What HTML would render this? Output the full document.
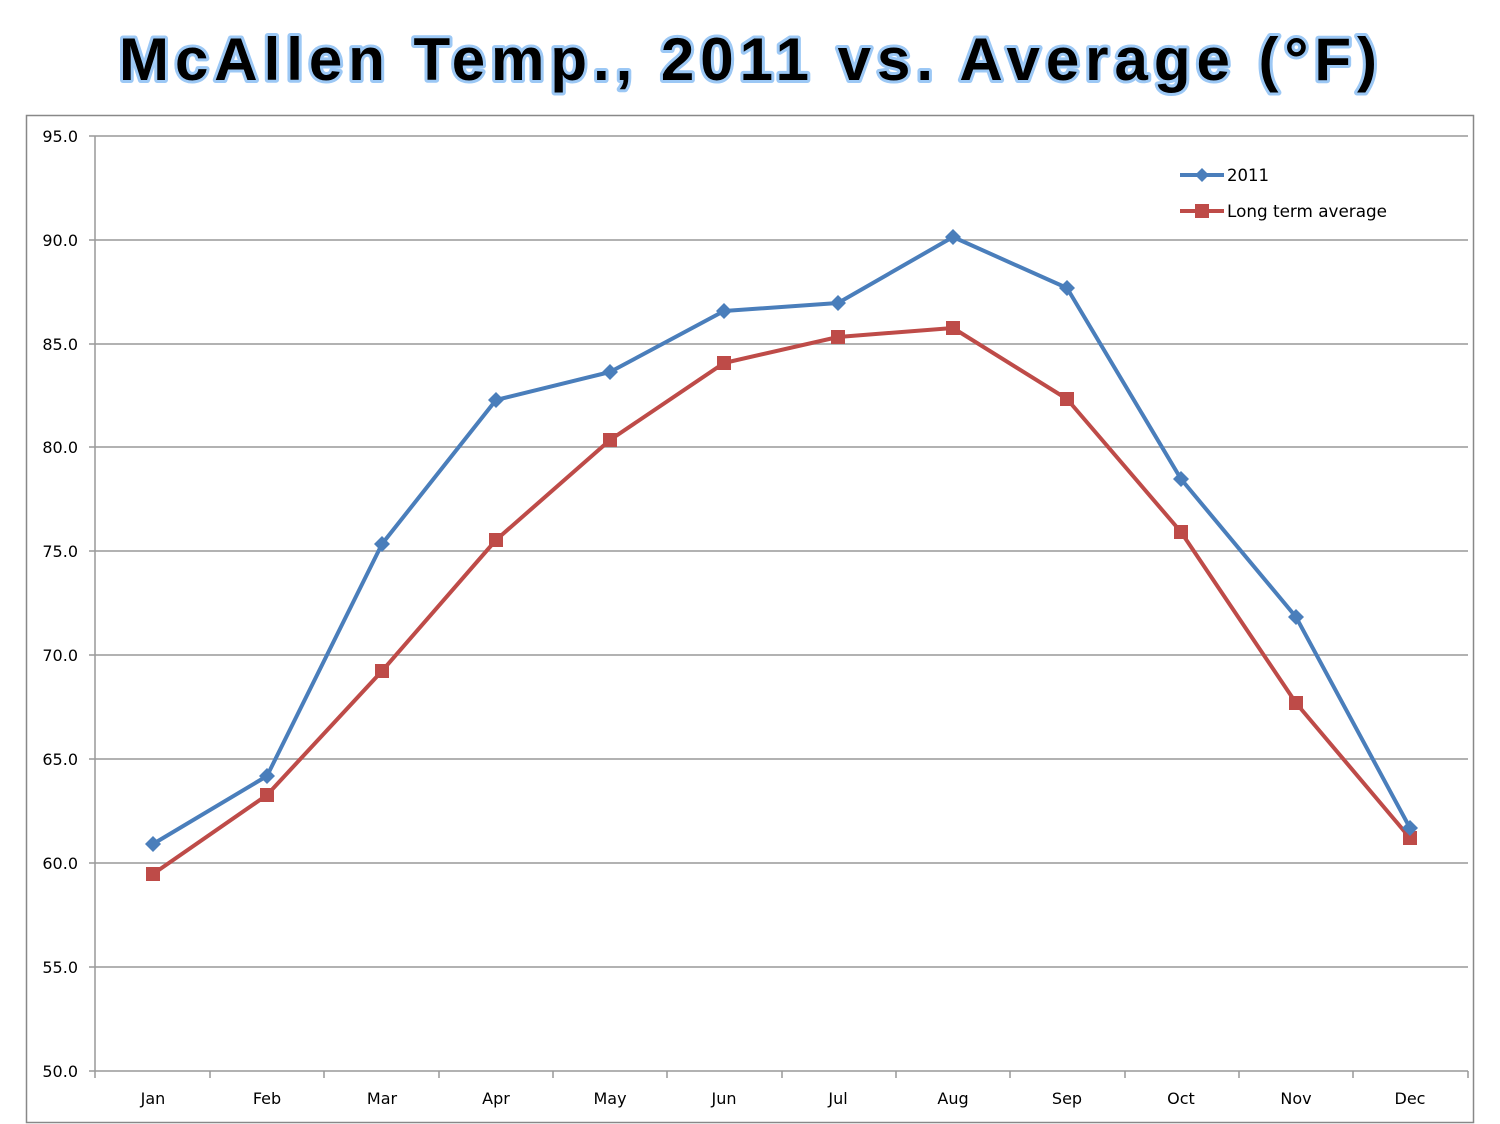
<!DOCTYPE html>
<html><head><meta charset="utf-8"><style>body{margin:0;background:#fff}svg{display:block}</style></head>
<body>
<svg width="1500" height="1124" xmlns="http://www.w3.org/2000/svg" font-family="Liberation Sans, sans-serif">
<rect width="1500" height="1124" fill="#fff"/>
<text x="748" y="80" text-anchor="middle" font-size="60" font-weight="bold" textLength="1258" lengthAdjust="spacing" fill="#000" stroke="#9cc8f5" stroke-width="6" stroke-linejoin="round" paint-order="stroke">McAllen Temp., 2011 vs. Average (°F)</text>
<rect x="26.5" y="115.5" width="1447" height="1007" fill="#fff" stroke="#888" stroke-width="1.5"/>
<g stroke="#999" stroke-width="1.5">
<line x1="89" y1="136" x2="1468" y2="136"/>
<line x1="89" y1="240" x2="1468" y2="240"/>
<line x1="89" y1="344" x2="1468" y2="344"/>
<line x1="89" y1="447" x2="1468" y2="447"/>
<line x1="89" y1="551" x2="1468" y2="551"/>
<line x1="89" y1="655" x2="1468" y2="655"/>
<line x1="89" y1="759" x2="1468" y2="759"/>
<line x1="89" y1="863" x2="1468" y2="863"/>
<line x1="89" y1="967" x2="1468" y2="967"/>
<line x1="89" y1="1071" x2="1468" y2="1071"/>
<line x1="95" y1="136" x2="95" y2="1071"/>
</g>
<g stroke="#999" stroke-width="1.5">
<line x1="95" y1="1071" x2="95" y2="1078"/><line x1="210" y1="1071" x2="210" y2="1078"/><line x1="324" y1="1071" x2="324" y2="1078"/><line x1="439" y1="1071" x2="439" y2="1078"/><line x1="553" y1="1071" x2="553" y2="1078"/><line x1="667" y1="1071" x2="667" y2="1078"/><line x1="782" y1="1071" x2="782" y2="1078"/><line x1="896" y1="1071" x2="896" y2="1078"/><line x1="1010" y1="1071" x2="1010" y2="1078"/><line x1="1125" y1="1071" x2="1125" y2="1078"/><line x1="1239" y1="1071" x2="1239" y2="1078"/><line x1="1353" y1="1071" x2="1353" y2="1078"/><line x1="1468" y1="1071" x2="1468" y2="1078"/>
</g>
<g font-size="16" font-family="DejaVu Sans, sans-serif" fill="#000" text-anchor="end">
<text x="78" y="142">95.0</text><text x="78" y="246">90.0</text><text x="78" y="350">85.0</text><text x="78" y="453">80.0</text><text x="78" y="557">75.0</text><text x="78" y="661">70.0</text><text x="78" y="765">65.0</text><text x="78" y="869">60.0</text><text x="78" y="973">55.0</text><text x="78" y="1077">50.0</text>
</g>
<g font-size="16" font-family="DejaVu Sans, sans-serif" fill="#000" text-anchor="middle">
<text x="153" y="1104">Jan</text><text x="267" y="1104">Feb</text><text x="382" y="1104">Mar</text><text x="496" y="1104">Apr</text><text x="610" y="1104">May</text><text x="724" y="1104">Jun</text><text x="838" y="1104">Jul</text><text x="953" y="1104">Aug</text><text x="1067" y="1104">Sep</text><text x="1181" y="1104">Oct</text><text x="1296" y="1104">Nov</text><text x="1410" y="1104">Dec</text>
</g>
<polyline fill="none" stroke="#be4b48" stroke-width="4" stroke-linejoin="round" points="153,874 267,795 382,671 496,540 610,440 724,363 838,337 953,328 1067,399 1181,532 1296,703 1410,838"/>
<g fill="#be4b48">
<rect x="146" y="867" width="14" height="14"/><rect x="260" y="788" width="14" height="14"/><rect x="375" y="664" width="14" height="14"/><rect x="489" y="533" width="14" height="14"/><rect x="603" y="433" width="14" height="14"/><rect x="717" y="356" width="14" height="14"/><rect x="831" y="330" width="14" height="14"/><rect x="946" y="321" width="14" height="14"/><rect x="1060" y="392" width="14" height="14"/><rect x="1174" y="525" width="14" height="14"/><rect x="1289" y="696" width="14" height="14"/><rect x="1403" y="831" width="14" height="14"/>
</g>
<polyline fill="none" stroke="#4a7ebb" stroke-width="4" stroke-linejoin="round" points="153,844 267,776 382,544 496,400 610,372 724,311 838,303 953,237 1067,288 1181,479 1296,617 1410,828"/>
<g fill="#4a7ebb">
<path d="M153,836l8,8l-8,8l-8,-8z"/><path d="M267,768l8,8l-8,8l-8,-8z"/><path d="M382,536l8,8l-8,8l-8,-8z"/><path d="M496,392l8,8l-8,8l-8,-8z"/><path d="M610,364l8,8l-8,8l-8,-8z"/><path d="M724,303l8,8l-8,8l-8,-8z"/><path d="M838,295l8,8l-8,8l-8,-8z"/><path d="M953,229l8,8l-8,8l-8,-8z"/><path d="M1067,280l8,8l-8,8l-8,-8z"/><path d="M1181,471l8,8l-8,8l-8,-8z"/><path d="M1296,609l8,8l-8,8l-8,-8z"/><path d="M1410,820l8,8l-8,8l-8,-8z"/>
</g>
<line x1="1180" y1="175" x2="1224" y2="175" stroke="#4a7ebb" stroke-width="4"/>
<path d="M1202,168l7,7l-7,7l-7,-7z" fill="#4a7ebb"/>
<line x1="1180" y1="211" x2="1224" y2="211" stroke="#be4b48" stroke-width="4"/>
<rect x="1195" y="204" width="14" height="14" fill="#be4b48"/>
<g font-size="17" font-family="DejaVu Sans, sans-serif" fill="#000"><text x="1227" y="181" textLength="42" lengthAdjust="spacingAndGlyphs">2011</text><text x="1227" y="217" textLength="160" lengthAdjust="spacingAndGlyphs">Long term average</text></g>
</svg>
</body></html>
